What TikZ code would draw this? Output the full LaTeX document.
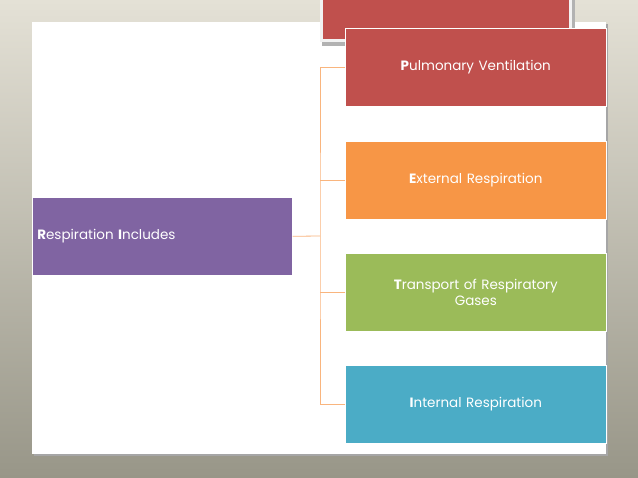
\documentclass[tikz,border=0pt]{standalone}
\usepackage{fontspec}
\setmainfont{Poppins}
\definecolor{cR}{RGB}{192,80,77}
\definecolor{cO}{RGB}{247,150,70}
\definecolor{cG}{RGB}{155,187,89}
\definecolor{cB}{RGB}{75,172,198}
\definecolor{cP}{RGB}{128,100,162}
\definecolor{bgT}{RGB}{228,225,214}
\definecolor{bgB}{RGB}{152,150,136}
\begin{document}
\begin{tikzpicture}[x=1pt,y=-1pt,
  box/.style={draw=white,line width=0.6pt,minimum width=261pt,minimum height=78pt,anchor=north west,inner sep=2pt,text=white,font=\fontsize{13.5}{16}\selectfont, align=center, text width=240pt},
  conn/.style={draw=cO!70!white,line width=0.8pt}]
\useasboundingbox (0,0) rectangle (638,478);
\shade[top color=bgT, bottom color=bgB] (0,0) rectangle (638,478);
\fill[black!35] (34,24) rectangle (608,456);
\fill[white] (32,22) rectangle (606,454);
\fill[black!30] (322,-2) rectangle (575,46);
\fill[white!90!gray] (320,-4) rectangle (572,42);
\fill[cR] (323,-4) rectangle (569,39);
\node[box,fill=cR] (pv) at (345,28) {\textbf{P}ulmonary Ventilation};
\node[box,fill=cO] (er) at (345,141) {\textbf{E}xternal Respiration};
\node[box,fill=cG] (tr) at (345,253) {\textbf{T}ransport of Respiratory\\Gases};
\node[box,fill=cB] (ir) at (345,365) {\textbf{I}nternal Respiration};
\node[box,fill=cP,minimum width=260pt,text width=250pt,align=left] (ri) at (32,197) {\textbf{R}espiration \textbf{I}ncludes};
\coordinate (j) at (320,236);
\draw[conn] (ri.east) -- (j);
\draw[conn] (pv.west) -| (j) |- (ir.west);
\draw[conn] (er.west) -- (er.west -| j);
\draw[conn] (tr.west) -- (tr.west -| j);
\end{tikzpicture}
\end{document}
